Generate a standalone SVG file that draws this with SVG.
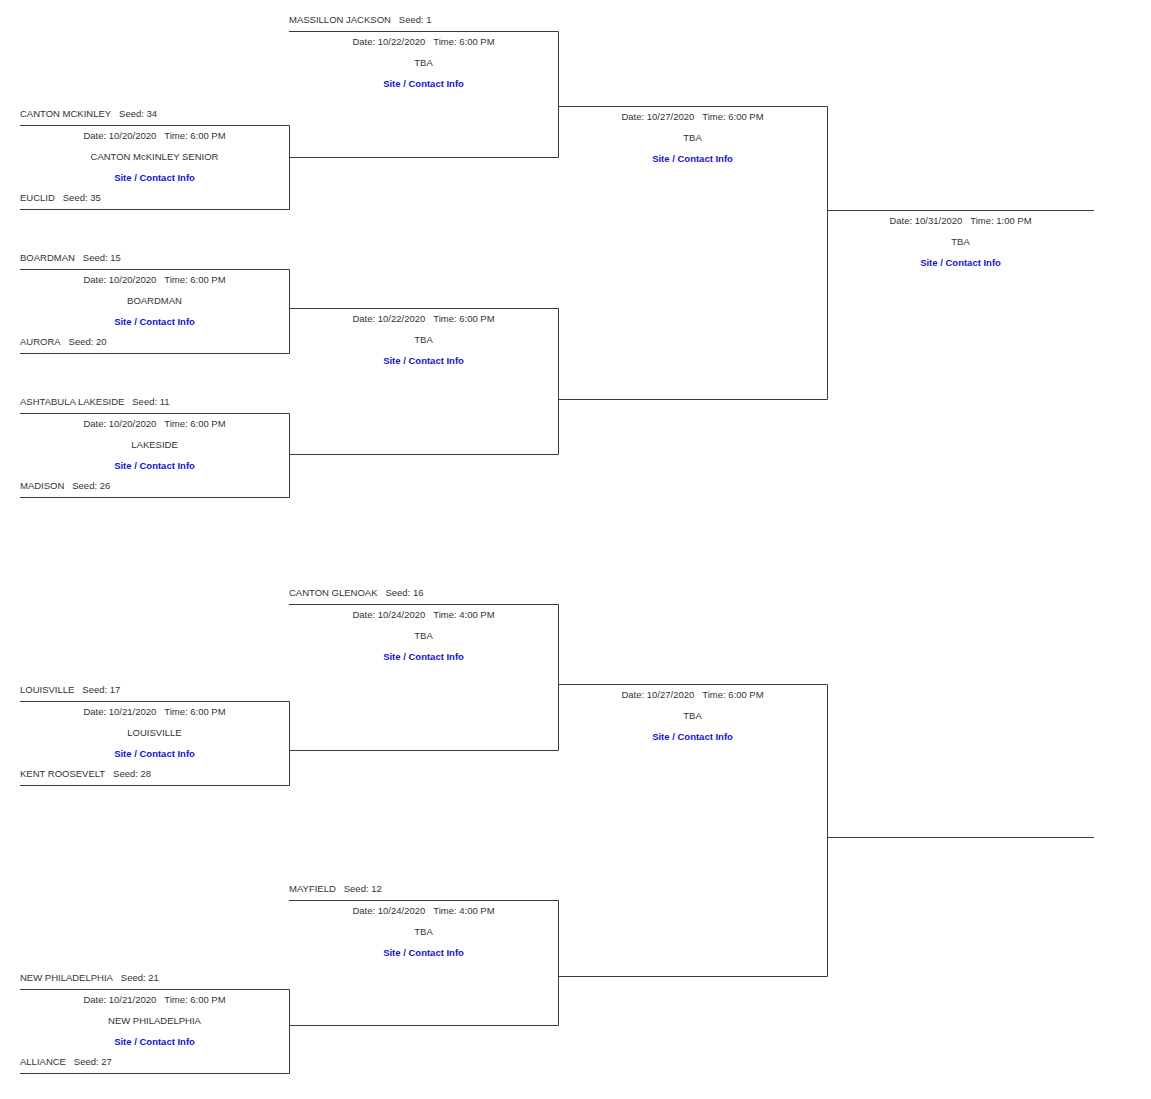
<svg xmlns="http://www.w3.org/2000/svg" width="1151" height="1099" viewBox="0 0 1151 1099">
<style>
text{font-family:"Liberation Sans",Arial,Helvetica,sans-serif;font-size:9.5px;fill:#333}
.c{text-anchor:middle}
.l{font-weight:bold;fill:#1414c8}
.br{fill:none;stroke:#3a3a3a;stroke-width:1}
</style>
<rect width="1151" height="1099" fill="#fff"/>
<g id="connectors">
<path class="br" d="M20 125.5H289.5V209.5H20"/>
<path class="br" d="M20 269.5H289.5V353.5H20"/>
<path class="br" d="M20 413.5H289.5V497.5H20"/>
<path class="br" d="M20 701.5H289.5V785.5H20"/>
<path class="br" d="M20 989.5H289.5V1073.5H20"/>
<path class="br" d="M289 31.5H558.5V157.5H289"/>
<path class="br" d="M289 308.5H558.5V454.5H289"/>
<path class="br" d="M289 604.5H558.5V750.5H289"/>
<path class="br" d="M289 900.5H558.5V1025.5H289"/>
<path class="br" d="M558 106.5H827.5V399.5H558"/>
<path class="br" d="M558 684.5H827.5V976.5H558"/>
<path class="br" d="M827 210.5H1094"/>
<path class="br" d="M827 837.5H1094"/>
</g>
<g id="r1-game1">
<text x="20" y="116.5">CANTON MCKINLEY&#160;&#160;&#160;Seed: 34</text>
<text class="c" x="154.5" y="138.5">Date: 10/20/2020&#160;&#160;&#160;Time: 6:00 PM</text>
<text class="c" x="154.5" y="159.5">CANTON McKINLEY SENIOR</text>
<text class="c l" x="154.5" y="180.5">Site / Contact Info</text>
<text x="20" y="200.5">EUCLID&#160;&#160;&#160;Seed: 35</text>
</g>
<g id="r1-game2">
<text x="20" y="260.5">BOARDMAN&#160;&#160;&#160;Seed: 15</text>
<text class="c" x="154.5" y="282.5">Date: 10/20/2020&#160;&#160;&#160;Time: 6:00 PM</text>
<text class="c" x="154.5" y="303.5">BOARDMAN</text>
<text class="c l" x="154.5" y="324.5">Site / Contact Info</text>
<text x="20" y="344.5">AURORA&#160;&#160;&#160;Seed: 20</text>
</g>
<g id="r1-game3">
<text x="20" y="404.5">ASHTABULA LAKESIDE&#160;&#160;&#160;Seed: 11</text>
<text class="c" x="154.5" y="426.5">Date: 10/20/2020&#160;&#160;&#160;Time: 6:00 PM</text>
<text class="c" x="154.5" y="447.5">LAKESIDE</text>
<text class="c l" x="154.5" y="468.5">Site / Contact Info</text>
<text x="20" y="488.5">MADISON&#160;&#160;&#160;Seed: 26</text>
</g>
<g id="r1-game4">
<text x="20" y="692.5">LOUISVILLE&#160;&#160;&#160;Seed: 17</text>
<text class="c" x="154.5" y="714.5">Date: 10/21/2020&#160;&#160;&#160;Time: 6:00 PM</text>
<text class="c" x="154.5" y="735.5">LOUISVILLE</text>
<text class="c l" x="154.5" y="756.5">Site / Contact Info</text>
<text x="20" y="776.5">KENT ROOSEVELT&#160;&#160;&#160;Seed: 28</text>
</g>
<g id="r1-game5">
<text x="20" y="980.5">NEW PHILADELPHIA&#160;&#160;&#160;Seed: 21</text>
<text class="c" x="154.5" y="1002.5">Date: 10/21/2020&#160;&#160;&#160;Time: 6:00 PM</text>
<text class="c" x="154.5" y="1023.5">NEW PHILADELPHIA</text>
<text class="c l" x="154.5" y="1044.5">Site / Contact Info</text>
<text x="20" y="1064.5">ALLIANCE&#160;&#160;&#160;Seed: 27</text>
</g>
<g id="r2-game1">
<text x="289" y="22.5">MASSILLON JACKSON&#160;&#160;&#160;Seed: 1</text>
<text class="c" x="423.5" y="44.5">Date: 10/22/2020&#160;&#160;&#160;Time: 6:00 PM</text>
<text class="c" x="423.5" y="65.5">TBA</text>
<text class="c l" x="423.5" y="86.5">Site / Contact Info</text>
</g>
<g id="r2-game2">
<text class="c" x="423.5" y="321.5">Date: 10/22/2020&#160;&#160;&#160;Time: 6:00 PM</text>
<text class="c" x="423.5" y="342.5">TBA</text>
<text class="c l" x="423.5" y="363.5">Site / Contact Info</text>
</g>
<g id="r2-game3">
<text x="289" y="595.5">CANTON GLENOAK&#160;&#160;&#160;Seed: 16</text>
<text class="c" x="423.5" y="617.5">Date: 10/24/2020&#160;&#160;&#160;Time: 4:00 PM</text>
<text class="c" x="423.5" y="638.5">TBA</text>
<text class="c l" x="423.5" y="659.5">Site / Contact Info</text>
</g>
<g id="r2-game4">
<text x="289" y="891.5">MAYFIELD&#160;&#160;&#160;Seed: 12</text>
<text class="c" x="423.5" y="913.5">Date: 10/24/2020&#160;&#160;&#160;Time: 4:00 PM</text>
<text class="c" x="423.5" y="934.5">TBA</text>
<text class="c l" x="423.5" y="955.5">Site / Contact Info</text>
</g>
<g id="r3-game1">
<text class="c" x="692.5" y="119.5">Date: 10/27/2020&#160;&#160;&#160;Time: 6:00 PM</text>
<text class="c" x="692.5" y="140.5">TBA</text>
<text class="c l" x="692.5" y="161.5">Site / Contact Info</text>
</g>
<g id="r3-game2">
<text class="c" x="692.5" y="697.5">Date: 10/27/2020&#160;&#160;&#160;Time: 6:00 PM</text>
<text class="c" x="692.5" y="718.5">TBA</text>
<text class="c l" x="692.5" y="739.5">Site / Contact Info</text>
</g>
<g id="r4-game1">
<text class="c" x="960.5" y="223.5">Date: 10/31/2020&#160;&#160;&#160;Time: 1:00 PM</text>
<text class="c" x="960.5" y="244.5">TBA</text>
<text class="c l" x="960.5" y="265.5">Site / Contact Info</text>
</g>
</svg>
